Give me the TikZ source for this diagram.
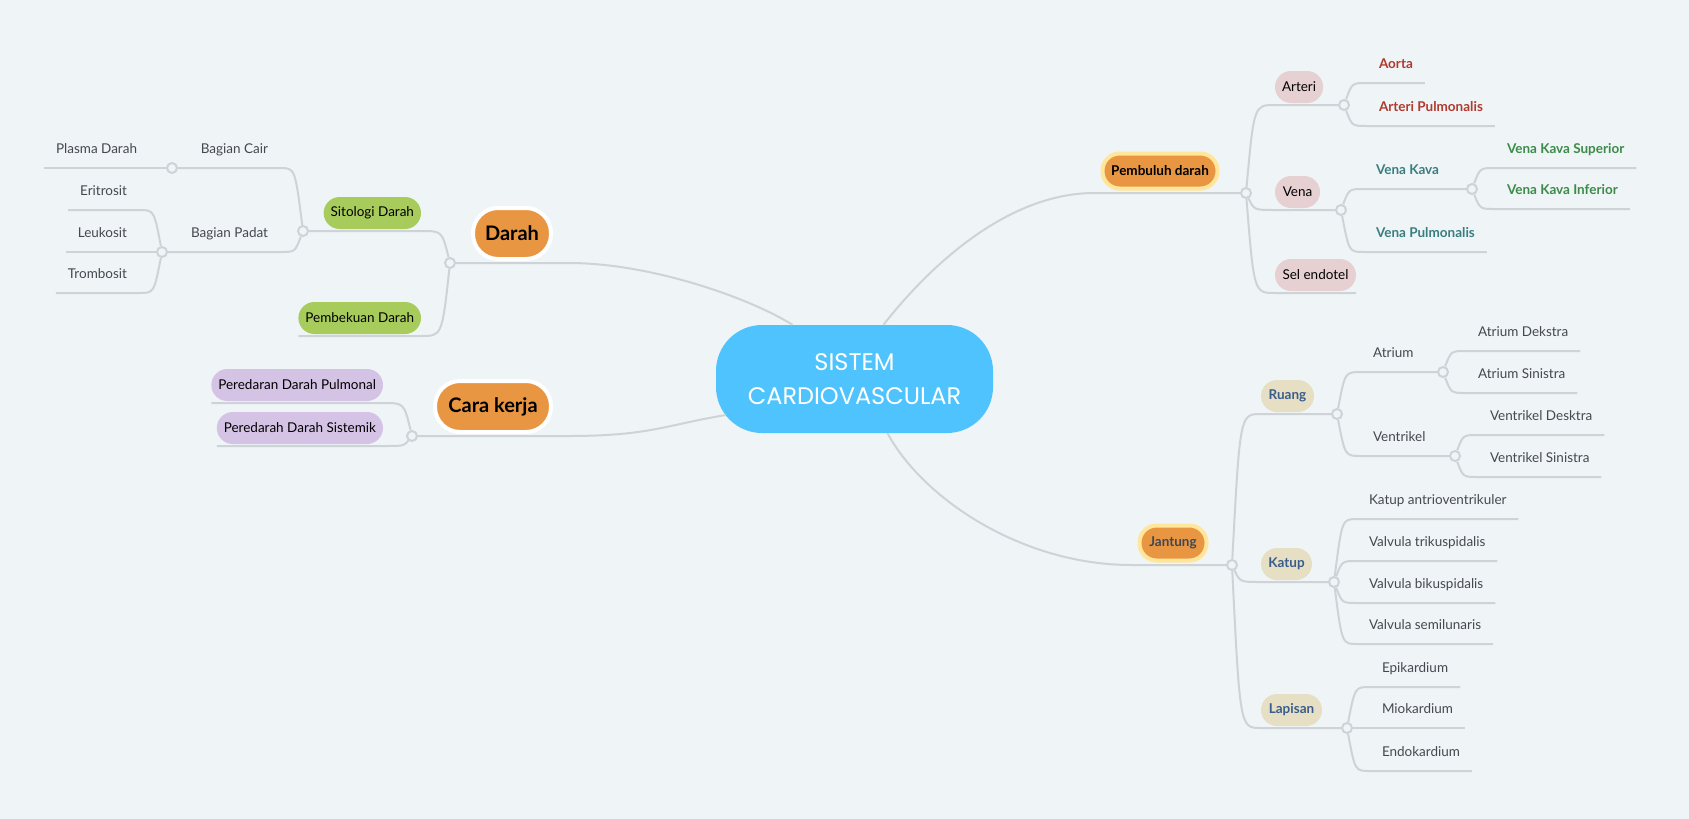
\documentclass[tikz,border=0pt]{standalone}
\usepackage{fontspec}
\setmainfont{Lato}
\newfontfamily\rootfont{Poppins}
\usetikzlibrary{calc}

\definecolor{bgcol}{HTML}{EFF4F7}
\definecolor{linegray}{HTML}{CED3D7}
\definecolor{rootblue}{HTML}{4FC3FD}
\definecolor{topicor}{HTML}{E89642}
\definecolor{ringyellow}{HTML}{FFE69A}
\definecolor{greenbox}{HTML}{A8CC5B}
\definecolor{lilac}{HTML}{D5C3E5}
\definecolor{pinkbox}{HTML}{E6D0D1}
\definecolor{beige}{HTML}{E6DFC3}
\definecolor{txtgray}{HTML}{45494F}
\definecolor{redtxt}{HTML}{B03A2E}
\definecolor{tealtxt}{HTML}{3A7E80}
\definecolor{greentxt}{HTML}{3D8B4A}
\definecolor{bluetxt}{HTML}{3A5E8C}
\definecolor{darktxt}{HTML}{3F4852}

\tikzstyle{link} = [draw=linegray, line width=2pt]
\tikzstyle{junc} = [circle, draw=linegray, line width=2pt, fill=bgcol, minimum size=10pt, inner sep=0pt]

\begin{document}
\begin{tikzpicture}[x=1pt,y=-1pt,
  pill/.style={rounded corners=16pt, minimum height=32pt, inner xsep=7pt, outer xsep=0pt, outer ysep=2pt, font=\fontsize{13.5}{16}\selectfont},
  leaf/.style={inner xsep=12pt, inner ysep=0pt, outer sep=0pt, text height=10pt, text depth=14.5pt, text=txtgray, font=\fontsize{13.5}{16}\selectfont},
  hot/.style={leaf, font=\fontsize{13.5}{16}\selectfont\bfseries},
  topic/.style={fill=topicor, line width=4pt, outer xsep=0pt},
  branch/.style={to path={.. controls ($(\tikztostart |- \tikztotarget)!8pt!(\tikztotarget)$) .. (\tikztotarget)}}]

\fill[bgcol] (0,0) rectangle (1689,819);

\node[fill=rootblue, rounded corners=46pt, minimum width=277pt, minimum height=108pt, align=center, text=white, font=\rootfont\fontsize{24}{34}\selectfont] (root) at (854.5,379) {SISTEM\\CARDIOVASCULAR};

% main topics
\node[topic, draw=white, minimum width=78pt, minimum height=51pt, rounded corners=25pt, outer ysep=4pt, font=\fontsize{20}{24}\selectfont\bfseries] (darah) at (512,233.5) {Darah};
\node[topic, draw=white, minimum width=116pt, minimum height=51pt, rounded corners=25pt, outer ysep=4pt, font=\fontsize{20}{24}\selectfont\bfseries] (cara) at (493,406.5) {Cara kerja};
\node[topic, draw=ringyellow, minimum width=115pt, minimum height=35pt, rounded corners=17pt, outer ysep=4.5pt, font=\fontsize{13.5}{16}\selectfont\bfseries] (pembuluh) at (1160,171) {Pembuluh darah};
\node[topic, draw=ringyellow, minimum width=67pt, minimum height=35pt, rounded corners=17pt, outer ysep=4.5pt, text=darktxt, font=\fontsize{13.5}{16}\selectfont\bfseries] (jantung) at (1173,543) {Jantung};

\node[junc] (jDarah) at (450,263) {};
\node[junc] (jCara) at (412,436) {};
\node[junc] (jPembuluh) at (1246,193) {};
\node[junc] (jJantung) at (1232,565) {};

% darah
\node[pill, fill=greenbox, anchor=east, minimum width=97pt] (sitologi) at (421,213) {Sitologi Darah};
\node[pill, fill=greenbox, anchor=east, minimum width=120pt] (pembekuan) at (421,318) {Pembekuan Darah};
\node[junc] (jSitologi) at (303,231) {};
\node[leaf, anchor=south east] (cair) at (280,168) {Bagian Cair};
\node[leaf, anchor=south east] (padat) at (280,252) {Bagian Padat};
\node[junc] (jCair) at (172,168) {};
\node[junc] (jPadat) at (162,252) {};
\node[leaf, anchor=south east] (plasma) at (149,168) {Plasma Darah};
\node[leaf, anchor=south east] (eritrosit) at (139,210) {Eritrosit};
\node[leaf, anchor=south east] (leukosit) at (139,252) {Leukosit};
\node[leaf, anchor=south east] (trombosit) at (139,293) {Trombosit};

% cara kerja
\node[pill, fill=lilac, anchor=east, minimum width=167pt] (pulmonal) at (383,385) {Peredaran Darah Pulmonal};
\node[pill, fill=lilac, anchor=east, minimum width=164pt] (sistemik) at (383,428) {Peredarah Darah Sistemik};

% pembuluh darah
\node[pill, fill=pinkbox, anchor=west, minimum width=47pt] (arteri) at (1275,87) {Arteri};
\node[pill, fill=pinkbox, anchor=west, minimum width=45pt] (vena) at (1275,192) {Vena};
\node[pill, fill=pinkbox, anchor=west, minimum width=81pt] (selendotel) at (1275,275) {Sel endotel};
\node[junc] (jArteri) at (1344,105) {};
\node[junc] (jVena) at (1341,210) {};
\node[hot, text=redtxt, anchor=south west] (aorta) at (1367,83) {Aorta};
\node[hot, text=redtxt, anchor=south west] (arteripul) at (1367,126) {Arteri Pulmonalis};
\node[hot, text=tealtxt, anchor=south west] (venakava) at (1364,189) {Vena Kava};
\node[hot, text=tealtxt, anchor=south west] (venapul) at (1364,252) {Vena Pulmonalis};
\node[junc] (jKava) at (1472,189) {};
\node[hot, text=greentxt, anchor=south west] (superior) at (1495,168) {Vena Kava Superior};
\node[hot, text=greentxt, anchor=south west] (inferior) at (1495,209) {Vena Kava Inferior};

% jantung
\node[pill, fill=beige, anchor=west, minimum width=53pt, text=bluetxt, font=\fontsize{13.5}{16}\selectfont\bfseries] (ruang) at (1261,396) {Ruang};
\node[pill, fill=beige, anchor=west, minimum width=51pt, text=bluetxt, font=\fontsize{13.5}{16}\selectfont\bfseries] (katup) at (1261,564) {Katup};
\node[pill, fill=beige, anchor=west, minimum width=61pt, text=bluetxt, font=\fontsize{13.5}{16}\selectfont\bfseries] (lapisan) at (1261,710) {Lapisan};
\node[junc] (jRuang) at (1337,414) {};
\node[junc] (jKatup) at (1334,582) {};
\node[junc] (jLapisan) at (1347,728) {};
\node[leaf, anchor=south west] (atrium) at (1361,372) {Atrium};
\node[leaf, anchor=south west] (ventrikel) at (1361,456) {Ventrikel};
\node[junc] (jAtrium) at (1443,372) {};
\node[junc] (jVentrikel) at (1455,456) {};
\node[leaf, anchor=south west] (adekstra) at (1466,351) {Atrium Dekstra};
\node[leaf, anchor=south west] (asinistra) at (1466,393) {Atrium Sinistra};
\node[leaf, anchor=south west] (vdekstra) at (1478,435) {Ventrikel Desktra};
\node[leaf, anchor=south west] (vsinistra) at (1478,477) {Ventrikel Sinistra};
\node[leaf, anchor=south west] (katupa) at (1357,519) {Katup antrioventrikuler};
\node[leaf, anchor=south west] (katupb) at (1357,561) {Valvula trikuspidalis};
\node[leaf, anchor=south west] (katupc) at (1357,603) {Valvula bikuspidalis};
\node[leaf, anchor=south west] (katupd) at (1357,644) {Valvula semilunaris};
\node[leaf, anchor=south west] (epi) at (1370,687) {Epikardium};
\node[leaf, anchor=south west] (mio) at (1370,728) {Miokardium};
\node[leaf, anchor=south west] (endo) at (1370,771) {Endokardium};

% links from the root
\draw[link] ([xshift=-62pt]root.north) .. controls +(-45,-28) and +(80,0) .. ([xshift=18pt]darah.south east) -- (jDarah);
\draw[link] ([shift={(10,36)}]root.west) .. controls +(-60,10) and +(80,0) .. ([xshift=18pt]cara.south east) -- (jCara);
\draw[link] ([xshift=29pt]root.north) .. controls +(35,-45) and +(-95,0) .. ([xshift=-8pt]pembuluh.south west) -- (jPembuluh);
\draw[link] ([xshift=33pt]root.south) .. controls +(35,65) and +(-110,0) .. ([xshift=-8pt]jantung.south west) -- (jJantung);

% left branches
\draw[link] (jDarah) to[branch] (sitologi.south east) -- (jSitologi);
\draw[link] (jDarah) to[branch] (pembekuan.south east) -- (pembekuan.south west);
\draw[link] (jSitologi) to[branch] (cair.south east) -- (jCair);
\draw[link] (jSitologi) to[branch] (padat.south east) -- (jPadat);
\draw[link] (jCair) to[branch] (plasma.south east) -- (plasma.south west);
\draw[link] (jPadat) to[branch] (eritrosit.south east) -- (eritrosit.south west);
\draw[link] (jPadat) to[branch] (leukosit.south east) -- (leukosit.south west);
\draw[link] (jPadat) to[branch] (trombosit.south east) -- (trombosit.south west);
\draw[link] (jCara) to[branch] (pulmonal.south east) -- (pulmonal.south west);
\draw[link] (jCara) to[branch] (sistemik.south east) -- (sistemik.south west);

% right branches
\draw[link] (jPembuluh) to[branch] (arteri.south west) -- (jArteri);
\draw[link] (jPembuluh) to[branch] (vena.south west) -- (jVena);
\draw[link] (jPembuluh) to[branch] (selendotel.south west) -- (selendotel.south east);
\draw[link] (jArteri) to[branch] (aorta.south west) -- (aorta.south east);
\draw[link] (jArteri) to[branch] (arteripul.south west) -- (arteripul.south east);
\draw[link] (jVena) to[branch] (venakava.south west) -- (jKava);
\draw[link] (jVena) to[branch] (venapul.south west) -- (venapul.south east);
\draw[link] (jKava) to[branch] (superior.south west) -- (superior.south east);
\draw[link] (jKava) to[branch] (inferior.south west) -- (inferior.south east);

\draw[link] (jJantung) to[branch] (ruang.south west) -- (jRuang);
\draw[link] (jJantung) to[branch] (katup.south west) -- (jKatup);
\draw[link] (jJantung) to[branch] (lapisan.south west) -- (jLapisan);
\draw[link] (jRuang) to[branch] (atrium.south west) -- (jAtrium);
\draw[link] (jRuang) to[branch] (ventrikel.south west) -- (jVentrikel);
\draw[link] (jAtrium) to[branch] (adekstra.south west) -- (adekstra.south east);
\draw[link] (jAtrium) to[branch] (asinistra.south west) -- (asinistra.south east);
\draw[link] (jVentrikel) to[branch] (vdekstra.south west) -- (vdekstra.south east);
\draw[link] (jVentrikel) to[branch] (vsinistra.south west) -- (vsinistra.south east);
\draw[link] (jKatup) to[branch] (katupa.south west) -- (katupa.south east);
\draw[link] (jKatup) to[branch] (katupb.south west) -- (katupb.south east);
\draw[link] (jKatup) to[branch] (katupc.south west) -- (katupc.south east);
\draw[link] (jKatup) to[branch] (katupd.south west) -- (katupd.south east);
\draw[link] (jLapisan) to[branch] (epi.south west) -- (epi.south east);
\draw[link] (jLapisan) to[branch] (mio.south west) -- (mio.south east);
\draw[link] (jLapisan) to[branch] (endo.south west) -- (endo.south east);
\end{tikzpicture}
\end{document}
